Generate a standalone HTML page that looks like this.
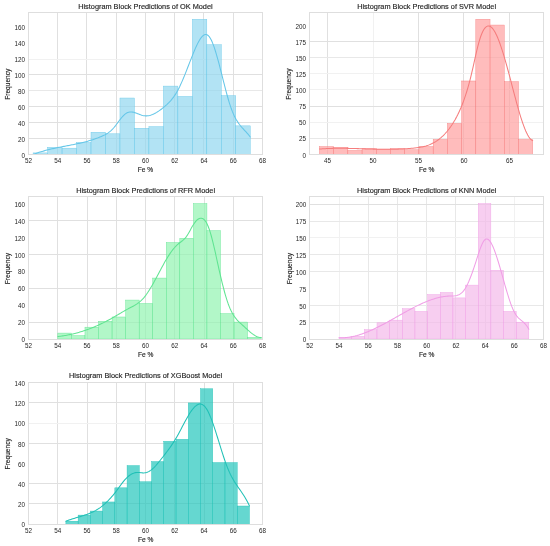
<!DOCTYPE html>
<html><head><meta charset="utf-8"><style>
html,body{margin:0;padding:0;background:#fff;}
svg{display:block;}
text{font-family:"Liberation Sans", Arial, sans-serif;fill:#262626;}
.lb,.tt{stroke:#262626;stroke-width:0.15px;}
.tk{font-size:6.3px;}
.lb{font-size:6.6px;}
.tt{font-size:7.33px;}
line{stroke-width:1;shape-rendering:crispEdges;}
</style></head><body>
<svg width="550" height="546" viewBox="0 0 550 546">
<rect width="550" height="546" fill="#fff"/>
<g><line x1="57.5" y1="12.5" x2="57.5" y2="154.5" stroke="#e0e0e0"/><line x1="86.5" y1="12.5" x2="86.5" y2="154.5" stroke="#e0e0e0"/><line x1="116.5" y1="12.5" x2="116.5" y2="154.5" stroke="#e0e0e0"/><line x1="145.5" y1="12.5" x2="145.5" y2="154.5" stroke="#e0e0e0"/><line x1="174.5" y1="12.5" x2="174.5" y2="154.5" stroke="#e0e0e0"/><line x1="203.5" y1="12.5" x2="203.5" y2="154.5" stroke="#e0e0e0"/><line x1="233.5" y1="12.5" x2="233.5" y2="154.5" stroke="#e0e0e0"/><line x1="28.5" y1="138.5" x2="262.5" y2="138.5" stroke="#e0e0e0"/><line x1="28.5" y1="122.5" x2="262.5" y2="122.5" stroke="#e0e0e0"/><line x1="28.5" y1="106.5" x2="262.5" y2="106.5" stroke="#e0e0e0"/><line x1="28.5" y1="90.5" x2="262.5" y2="90.5" stroke="#e8e8e8"/><line x1="28.5" y1="74.5" x2="262.5" y2="74.5" stroke="#e0e0e0"/><line x1="28.5" y1="59.5" x2="262.5" y2="59.5" stroke="#f1f1f1"/><rect x="33.08" y="152.91" width="14.48" height="1.59" fill="rgba(145,215,239,0.7)" stroke="rgb(100,198,232)" stroke-width="0.4"/><rect x="47.56" y="147.34" width="14.48" height="7.16" fill="rgba(145,215,239,0.7)" stroke="rgb(100,198,232)" stroke-width="0.4"/><rect x="62.04" y="148.14" width="14.48" height="6.36" fill="rgba(145,215,239,0.7)" stroke="rgb(100,198,232)" stroke-width="0.4"/><rect x="76.52" y="142.57" width="14.48" height="11.93" fill="rgba(145,215,239,0.7)" stroke="rgb(100,198,232)" stroke-width="0.4"/><rect x="91" y="132.23" width="14.48" height="22.27" fill="rgba(145,215,239,0.7)" stroke="rgb(100,198,232)" stroke-width="0.4"/><rect x="105.47" y="133.82" width="14.48" height="20.68" fill="rgba(145,215,239,0.7)" stroke="rgb(100,198,232)" stroke-width="0.4"/><rect x="119.95" y="98.02" width="14.48" height="56.48" fill="rgba(145,215,239,0.7)" stroke="rgb(100,198,232)" stroke-width="0.4"/><rect x="134.43" y="128.25" width="14.48" height="26.25" fill="rgba(145,215,239,0.7)" stroke="rgb(100,198,232)" stroke-width="0.4"/><rect x="148.91" y="126.66" width="14.48" height="27.84" fill="rgba(145,215,239,0.7)" stroke="rgb(100,198,232)" stroke-width="0.4"/><rect x="163.39" y="86.09" width="14.48" height="68.41" fill="rgba(145,215,239,0.7)" stroke="rgb(100,198,232)" stroke-width="0.4"/><rect x="177.87" y="96.43" width="14.48" height="58.07" fill="rgba(145,215,239,0.7)" stroke="rgb(100,198,232)" stroke-width="0.4"/><rect x="192.35" y="19.26" width="14.48" height="135.24" fill="rgba(145,215,239,0.7)" stroke="rgb(100,198,232)" stroke-width="0.4"/><rect x="206.83" y="44.72" width="14.48" height="109.78" fill="rgba(145,215,239,0.7)" stroke="rgb(100,198,232)" stroke-width="0.4"/><rect x="221.3" y="95.63" width="14.48" height="58.87" fill="rgba(145,215,239,0.7)" stroke="rgb(100,198,232)" stroke-width="0.4"/><rect x="235.78" y="125.86" width="14.48" height="28.64" fill="rgba(145,215,239,0.7)" stroke="rgb(100,198,232)" stroke-width="0.4"/><polyline points="33.08,154.5 34.08,154.13 35.07,153.76 36.07,153.39 37.06,153.04 38.06,152.7 39.06,152.37 40.05,152.05 41.05,151.74 42.05,151.44 43.04,151.15 44.04,150.87 45.03,150.59 46.03,150.32 47.03,150.06 48.02,149.81 49.02,149.56 50.02,149.32 51.01,149.08 52.01,148.85 53,148.63 54,148.41 55,148.19 55.99,147.98 56.99,147.77 57.99,147.57 58.98,147.36 59.98,147.17 60.97,146.97 61.97,146.77 62.97,146.58 63.96,146.39 64.96,146.19 65.96,146 66.95,145.81 67.95,145.62 68.94,145.43 69.94,145.23 70.94,145.04 71.93,144.84 72.93,144.64 73.93,144.44 74.92,144.23 75.92,144.03 76.91,143.81 77.91,143.6 78.91,143.38 79.9,143.15 80.9,142.92 81.9,142.69 82.89,142.44 83.89,142.2 84.88,141.94 85.88,141.68 86.88,141.41 87.87,141.14 88.87,140.85 89.87,140.56 90.86,140.26 91.86,139.95 92.85,139.63 93.85,139.29 94.85,138.95 95.84,138.6 96.84,138.24 97.84,137.87 98.83,137.48 99.83,137.08 100.82,136.68 101.82,136.25 102.82,135.81 103.81,135.35 104.81,134.85 105.81,134.32 106.8,133.74 107.8,133.1 108.79,132.41 109.79,131.65 110.79,130.81 111.78,129.88 112.78,128.87 113.78,127.76 114.77,126.56 115.77,125.3 116.76,123.99 117.76,122.65 118.76,121.31 119.75,119.99 120.75,118.7 121.75,117.47 122.74,116.32 123.74,115.28 124.73,114.36 125.73,113.58 126.73,112.96 127.72,112.5 128.72,112.19 129.72,112.01 130.71,111.95 131.71,111.99 132.7,112.13 133.7,112.34 134.7,112.62 135.69,112.94 136.69,113.3 137.69,113.69 138.68,114.08 139.68,114.46 140.67,114.83 141.67,115.16 142.67,115.44 143.66,115.66 144.66,115.81 145.66,115.88 146.65,115.88 147.65,115.8 148.64,115.66 149.64,115.45 150.64,115.18 151.63,114.84 152.63,114.46 153.63,114.02 154.62,113.53 155.62,112.99 156.61,112.41 157.61,111.79 158.61,111.13 159.6,110.44 160.6,109.72 161.6,108.97 162.59,108.19 163.59,107.39 164.58,106.57 165.58,105.72 166.58,104.84 167.57,103.91 168.57,102.93 169.57,101.9 170.56,100.8 171.56,99.63 172.55,98.39 173.55,97.06 174.55,95.64 175.54,94.12 176.54,92.49 177.54,90.76 178.53,88.9 179.53,86.92 180.52,84.83 181.52,82.64 182.52,80.36 183.51,78 184.51,75.58 185.51,73.11 186.5,70.59 187.5,68.05 188.49,65.49 189.49,62.93 190.49,60.37 191.48,57.84 192.48,55.33 193.48,52.87 194.47,50.47 195.47,48.16 196.46,45.96 197.46,43.88 198.46,41.96 199.45,40.21 200.45,38.65 201.45,37.3 202.44,36.2 203.44,35.35 204.43,34.78 205.43,34.51 206.43,34.56 207.42,34.96 208.42,35.72 209.42,36.87 210.41,38.41 211.41,40.32 212.4,42.57 213.4,45.12 214.4,47.95 215.39,51.02 216.39,54.31 217.39,57.78 218.38,61.41 219.38,65.16 220.37,69.01 221.37,72.91 222.37,76.86 223.36,80.8 224.36,84.72 225.36,88.57 226.35,92.34 227.35,95.99 228.34,99.49 229.34,102.82 230.34,105.93 231.33,108.8 232.33,111.42 233.33,113.8 234.32,115.97 235.32,117.95 236.31,119.74 237.31,121.38 238.31,122.88 239.3,124.26 240.3,125.54 241.3,126.73 242.29,127.87 243.29,128.96 244.28,130.03 245.28,131.1 246.28,132.18 247.27,133.29 248.27,134.46 249.27,135.7 250.26,137.03" fill="none" stroke="rgb(100,198,232)" stroke-width="1.05" stroke-linejoin="round" stroke-linecap="round"/><rect x="28.5" y="12.5" width="234" height="142" fill="none" stroke="#dedede" stroke-width="1" shape-rendering="crispEdges"/><text x="28.4" y="163.2" class="tk" text-anchor="middle">52</text><text x="57.65" y="163.2" class="tk" text-anchor="middle">54</text><text x="86.9" y="163.2" class="tk" text-anchor="middle">56</text><text x="116.15" y="163.2" class="tk" text-anchor="middle">58</text><text x="145.4" y="163.2" class="tk" text-anchor="middle">60</text><text x="174.65" y="163.2" class="tk" text-anchor="middle">62</text><text x="203.9" y="163.2" class="tk" text-anchor="middle">64</text><text x="233.15" y="163.2" class="tk" text-anchor="middle">66</text><text x="262.4" y="163.2" class="tk" text-anchor="middle">68</text><text x="24.9" y="157.7" class="tk" text-anchor="end">0</text><text x="24.9" y="141.79" class="tk" text-anchor="end">20</text><text x="24.9" y="125.88" class="tk" text-anchor="end">40</text><text x="24.9" y="109.97" class="tk" text-anchor="end">60</text><text x="24.9" y="94.06" class="tk" text-anchor="end">80</text><text x="24.9" y="78.15" class="tk" text-anchor="end">100</text><text x="24.9" y="62.24" class="tk" text-anchor="end">120</text><text x="24.9" y="46.33" class="tk" text-anchor="end">140</text><text x="24.9" y="30.42" class="tk" text-anchor="end">160</text><text x="145.4" y="172" class="lb" text-anchor="middle">Fe %</text><text transform="translate(10.2,84.2) rotate(-90)" class="lb" text-anchor="middle">Frequency</text><text x="145.4" y="8.6" class="tt" text-anchor="middle">Histogram Block Predictions of OK Model</text></g><g><line x1="327.5" y1="12.5" x2="327.5" y2="154.5" stroke="#e0e0e0"/><line x1="373.5" y1="12.5" x2="373.5" y2="154.5" stroke="#f1f1f1"/><line x1="418.5" y1="12.5" x2="418.5" y2="154.5" stroke="#e0e0e0"/><line x1="463.5" y1="12.5" x2="463.5" y2="154.5" stroke="#e0e0e0"/><line x1="509.5" y1="12.5" x2="509.5" y2="154.5" stroke="#e0e0e0"/><line x1="309.5" y1="138.5" x2="543.5" y2="138.5" stroke="#e8e8e8"/><line x1="309.5" y1="122.5" x2="543.5" y2="122.5" stroke="#f1f1f1"/><line x1="309.5" y1="106.5" x2="543.5" y2="106.5" stroke="#e0e0e0"/><line x1="309.5" y1="89.5" x2="543.5" y2="89.5" stroke="#f1f1f1"/><line x1="309.5" y1="73.5" x2="543.5" y2="73.5" stroke="#f1f1f1"/><line x1="309.5" y1="57.5" x2="543.5" y2="57.5" stroke="#e8e8e8"/><line x1="309.5" y1="41.5" x2="543.5" y2="41.5" stroke="#e0e0e0"/><rect x="319.41" y="146.58" width="14.22" height="7.72" fill="rgba(255,159,159,0.7)" stroke="rgb(245,125,125)" stroke-width="0.4"/><rect x="333.63" y="147.23" width="14.22" height="7.07" fill="rgba(255,159,159,0.7)" stroke="rgb(245,125,125)" stroke-width="0.4"/><rect x="347.85" y="150.44" width="14.22" height="3.86" fill="rgba(255,159,159,0.7)" stroke="rgb(245,125,125)" stroke-width="0.4"/><rect x="362.07" y="148.51" width="14.22" height="5.79" fill="rgba(255,159,159,0.7)" stroke="rgb(245,125,125)" stroke-width="0.4"/><rect x="376.29" y="149.16" width="14.22" height="5.14" fill="rgba(255,159,159,0.7)" stroke="rgb(245,125,125)" stroke-width="0.4"/><rect x="390.51" y="148.51" width="14.22" height="5.79" fill="rgba(255,159,159,0.7)" stroke="rgb(245,125,125)" stroke-width="0.4"/><rect x="404.73" y="149.8" width="14.22" height="4.5" fill="rgba(255,159,159,0.7)" stroke="rgb(245,125,125)" stroke-width="0.4"/><rect x="418.94" y="146.58" width="14.22" height="7.72" fill="rgba(255,159,159,0.7)" stroke="rgb(245,125,125)" stroke-width="0.4"/><rect x="433.16" y="139.51" width="14.22" height="14.79" fill="rgba(255,159,159,0.7)" stroke="rgb(245,125,125)" stroke-width="0.4"/><rect x="447.38" y="123.43" width="14.22" height="30.87" fill="rgba(255,159,159,0.7)" stroke="rgb(245,125,125)" stroke-width="0.4"/><rect x="461.6" y="80.99" width="14.22" height="73.31" fill="rgba(255,159,159,0.7)" stroke="rgb(245,125,125)" stroke-width="0.4"/><rect x="475.82" y="19.25" width="14.22" height="135.05" fill="rgba(255,159,159,0.7)" stroke="rgb(245,125,125)" stroke-width="0.4"/><rect x="490.04" y="25.04" width="14.22" height="129.26" fill="rgba(255,159,159,0.7)" stroke="rgb(245,125,125)" stroke-width="0.4"/><rect x="504.26" y="81.63" width="14.22" height="72.67" fill="rgba(255,159,159,0.7)" stroke="rgb(245,125,125)" stroke-width="0.4"/><rect x="518.48" y="139.51" width="14.22" height="14.79" fill="rgba(255,159,159,0.7)" stroke="rgb(245,125,125)" stroke-width="0.4"/><polyline points="319.41,149.07 320.41,148.99 321.4,148.91 322.4,148.84 323.4,148.77 324.39,148.71 325.39,148.65 326.39,148.6 327.38,148.55 328.38,148.51 329.38,148.47 330.37,148.43 331.37,148.4 332.37,148.38 333.36,148.35 334.36,148.33 335.36,148.32 336.35,148.3 337.35,148.3 338.35,148.29 339.34,148.29 340.34,148.29 341.34,148.29 342.33,148.29 343.33,148.3 344.33,148.31 345.32,148.32 346.32,148.34 347.32,148.36 348.31,148.37 349.31,148.4 350.31,148.42 351.3,148.44 352.3,148.47 353.3,148.49 354.29,148.52 355.29,148.55 356.29,148.58 357.28,148.61 358.28,148.64 359.28,148.67 360.27,148.71 361.27,148.74 362.27,148.77 363.26,148.81 364.26,148.84 365.26,148.87 366.25,148.91 367.25,148.94 368.25,148.97 369.24,149 370.24,149.03 371.24,149.06 372.23,149.09 373.23,149.12 374.23,149.14 375.22,149.17 376.22,149.19 377.22,149.21 378.21,149.23 379.21,149.25 380.21,149.27 381.2,149.28 382.2,149.29 383.2,149.3 384.19,149.31 385.19,149.32 386.19,149.32 387.18,149.32 388.18,149.31 389.18,149.31 390.17,149.3 391.17,149.29 392.17,149.27 393.16,149.25 394.16,149.23 395.16,149.21 396.15,149.18 397.15,149.15 398.15,149.12 399.14,149.08 400.14,149.04 401.14,149 402.13,148.95 403.13,148.9 404.13,148.84 405.12,148.78 406.12,148.72 407.12,148.65 408.11,148.58 409.11,148.5 410.11,148.42 411.1,148.34 412.1,148.25 413.1,148.15 414.09,148.06 415.09,147.95 416.09,147.84 417.08,147.71 418.08,147.58 419.08,147.43 420.07,147.27 421.07,147.09 422.07,146.89 423.06,146.67 424.06,146.43 425.06,146.17 426.05,145.89 427.05,145.58 428.05,145.24 429.04,144.87 430.04,144.47 431.04,144.04 432.03,143.58 433.03,143.08 434.03,142.54 435.02,141.97 436.02,141.35 437.02,140.69 438.01,139.99 439.01,139.25 440.01,138.46 441,137.62 442,136.73 443,135.78 443.99,134.79 444.99,133.74 445.99,132.64 446.98,131.48 447.98,130.25 448.98,128.97 449.97,127.63 450.97,126.22 451.97,124.74 452.96,123.2 453.96,121.59 454.96,119.9 455.95,118.13 456.95,116.28 457.95,114.32 458.94,112.25 459.94,110.07 460.94,107.77 461.93,105.34 462.93,102.78 463.93,100.06 464.92,97.2 465.92,94.17 466.92,90.98 467.92,87.61 468.91,84.05 469.91,80.31 470.91,76.36 471.9,72.21 472.9,67.85 473.9,63.38 474.89,58.87 475.89,54.42 476.89,50.12 477.88,46.06 478.88,42.34 479.88,39 480.87,36.04 481.87,33.48 482.87,31.31 483.86,29.52 484.86,28.11 485.86,27.06 486.85,26.37 487.85,26.01 488.85,25.97 489.84,26.25 490.84,26.82 491.84,27.68 492.83,28.81 493.83,30.19 494.83,31.83 495.82,33.69 496.82,35.78 497.82,38.07 498.81,40.56 499.81,43.22 500.81,46.06 501.8,49.05 502.8,52.17 503.8,55.43 504.79,58.81 505.79,62.28 506.79,65.84 507.78,69.49 508.78,73.19 509.78,76.94 510.77,80.73 511.77,84.54 512.77,88.35 513.76,92.15 514.76,95.92 515.76,99.64 516.75,103.31 517.75,106.9 518.75,110.39 519.74,113.78 520.74,117.04 521.74,120.16 522.73,123.12 523.73,125.91 524.73,128.52 525.72,130.91 526.72,133.09 527.72,135.03 528.71,136.72 529.71,138.14 530.71,139.27 531.7,140.11 532.7,140.63" fill="none" stroke="rgb(245,125,125)" stroke-width="1.05" stroke-linejoin="round" stroke-linecap="round"/><rect x="309.5" y="12.5" width="234" height="142" fill="none" stroke="#dedede" stroke-width="1" shape-rendering="crispEdges"/><text x="327.59" y="163" class="tk" text-anchor="middle">45</text><text x="373.05" y="163" class="tk" text-anchor="middle">50</text><text x="418.51" y="163" class="tk" text-anchor="middle">55</text><text x="463.97" y="163" class="tk" text-anchor="middle">60</text><text x="509.42" y="163" class="tk" text-anchor="middle">65</text><text x="306" y="157.5" class="tk" text-anchor="end">0</text><text x="306" y="141.42" class="tk" text-anchor="end">25</text><text x="306" y="125.35" class="tk" text-anchor="end">50</text><text x="306" y="109.27" class="tk" text-anchor="end">75</text><text x="306" y="93.19" class="tk" text-anchor="end">100</text><text x="306" y="77.11" class="tk" text-anchor="end">125</text><text x="306" y="61.04" class="tk" text-anchor="end">150</text><text x="306" y="44.96" class="tk" text-anchor="end">175</text><text x="306" y="28.88" class="tk" text-anchor="end">200</text><text x="426.6" y="171.8" class="lb" text-anchor="middle">Fe %</text><text transform="translate(291.3,84.1) rotate(-90)" class="lb" text-anchor="middle">Frequency</text><text x="426.6" y="8.6" class="tt" text-anchor="middle">Histogram Block Predictions of SVR Model</text></g><g><line x1="57.5" y1="196.5" x2="57.5" y2="339.5" stroke="#e0e0e0"/><line x1="87.5" y1="196.5" x2="87.5" y2="339.5" stroke="#e0e0e0"/><line x1="116.5" y1="196.5" x2="116.5" y2="339.5" stroke="#e0e0e0"/><line x1="145.5" y1="196.5" x2="145.5" y2="339.5" stroke="#e0e0e0"/><line x1="174.5" y1="196.5" x2="174.5" y2="339.5" stroke="#e0e0e0"/><line x1="204.5" y1="196.5" x2="204.5" y2="339.5" stroke="#e0e0e0"/><line x1="233.5" y1="196.5" x2="233.5" y2="339.5" stroke="#e0e0e0"/><line x1="28.5" y1="322.5" x2="262.5" y2="322.5" stroke="#e0e0e0"/><line x1="28.5" y1="288.5" x2="262.5" y2="288.5" stroke="#e0e0e0"/><line x1="28.5" y1="254.5" x2="262.5" y2="254.5" stroke="#e0e0e0"/><line x1="28.5" y1="220.5" x2="262.5" y2="220.5" stroke="#e0e0e0"/><rect x="57.85" y="333.07" width="13.55" height="5.93" fill="rgba(145,244,176,0.7)" stroke="rgb(95,228,145)" stroke-width="0.4"/><rect x="71.4" y="335.61" width="13.55" height="3.39" fill="rgba(145,244,176,0.7)" stroke="rgb(95,228,145)" stroke-width="0.4"/><rect x="84.95" y="327.15" width="13.55" height="11.85" fill="rgba(145,244,176,0.7)" stroke="rgb(95,228,145)" stroke-width="0.4"/><rect x="98.51" y="321.23" width="13.55" height="17.77" fill="rgba(145,244,176,0.7)" stroke="rgb(95,228,145)" stroke-width="0.4"/><rect x="112.06" y="316.99" width="13.55" height="22.01" fill="rgba(145,244,176,0.7)" stroke="rgb(95,228,145)" stroke-width="0.4"/><rect x="125.61" y="300.06" width="13.55" height="38.94" fill="rgba(145,244,176,0.7)" stroke="rgb(95,228,145)" stroke-width="0.4"/><rect x="139.17" y="303.45" width="13.55" height="35.55" fill="rgba(145,244,176,0.7)" stroke="rgb(95,228,145)" stroke-width="0.4"/><rect x="152.72" y="278.06" width="13.55" height="60.94" fill="rgba(145,244,176,0.7)" stroke="rgb(95,228,145)" stroke-width="0.4"/><rect x="166.27" y="242.51" width="13.55" height="96.49" fill="rgba(145,244,176,0.7)" stroke="rgb(95,228,145)" stroke-width="0.4"/><rect x="179.82" y="238.28" width="13.55" height="100.72" fill="rgba(145,244,176,0.7)" stroke="rgb(95,228,145)" stroke-width="0.4"/><rect x="193.38" y="203.57" width="13.55" height="135.43" fill="rgba(145,244,176,0.7)" stroke="rgb(95,228,145)" stroke-width="0.4"/><rect x="206.93" y="230.66" width="13.55" height="108.34" fill="rgba(145,244,176,0.7)" stroke="rgb(95,228,145)" stroke-width="0.4"/><rect x="220.48" y="313.61" width="13.55" height="25.39" fill="rgba(145,244,176,0.7)" stroke="rgb(95,228,145)" stroke-width="0.4"/><rect x="234.03" y="322.07" width="13.55" height="16.93" fill="rgba(145,244,176,0.7)" stroke="rgb(95,228,145)" stroke-width="0.4"/><rect x="247.59" y="337.31" width="13.55" height="1.69" fill="rgba(145,244,176,0.7)" stroke="rgb(95,228,145)" stroke-width="0.4"/><polyline points="57.85,336.53 58.85,336.42 59.84,336.3 60.84,336.17 61.84,336.03 62.83,335.89 63.83,335.74 64.83,335.57 65.82,335.4 66.82,335.22 67.82,335.03 68.81,334.84 69.81,334.63 70.8,334.42 71.8,334.2 72.8,333.97 73.79,333.73 74.79,333.48 75.79,333.23 76.78,332.96 77.78,332.69 78.78,332.41 79.77,332.12 80.77,331.82 81.77,331.51 82.76,331.2 83.76,330.87 84.76,330.54 85.75,330.2 86.75,329.85 87.75,329.49 88.74,329.13 89.74,328.75 90.73,328.37 91.73,327.98 92.73,327.58 93.72,327.17 94.72,326.75 95.72,326.33 96.71,325.89 97.71,325.45 98.71,325 99.7,324.54 100.7,324.07 101.7,323.6 102.69,323.11 103.69,322.62 104.69,322.12 105.68,321.61 106.68,321.09 107.68,320.56 108.67,320.03 109.67,319.49 110.66,318.93 111.66,318.37 112.66,317.8 113.65,317.23 114.65,316.64 115.65,316.06 116.64,315.47 117.64,314.87 118.64,314.28 119.63,313.68 120.63,313.09 121.63,312.5 122.62,311.91 123.62,311.33 124.62,310.76 125.61,310.19 126.61,309.63 127.61,309.09 128.6,308.55 129.6,308.03 130.6,307.51 131.59,306.99 132.59,306.46 133.58,305.92 134.58,305.35 135.58,304.76 136.57,304.13 137.57,303.45 138.57,302.72 139.56,301.94 140.56,301.08 141.56,300.16 142.55,299.16 143.55,298.06 144.55,296.88 145.54,295.6 146.54,294.24 147.54,292.81 148.53,291.3 149.53,289.72 150.53,288.09 151.52,286.4 152.52,284.67 153.51,282.89 154.51,281.09 155.51,279.25 156.5,277.4 157.5,275.53 158.5,273.66 159.49,271.78 160.49,269.91 161.49,268.05 162.48,266.21 163.48,264.39 164.48,262.6 165.47,260.86 166.47,259.15 167.47,257.5 168.46,255.9 169.46,254.36 170.46,252.9 171.45,251.5 172.45,250.18 173.44,248.94 174.44,247.76 175.44,246.66 176.43,245.63 177.43,244.67 178.43,243.78 179.42,242.97 180.42,242.21 181.42,241.48 182.41,240.72 183.41,239.89 184.41,238.95 185.4,237.87 186.4,236.58 187.4,235.09 188.39,233.45 189.39,231.7 190.39,229.89 191.38,228.09 192.38,226.34 193.38,224.7 194.37,223.2 195.37,221.86 196.36,220.7 197.36,219.73 198.36,218.97 199.35,218.45 200.35,218.17 201.35,218.15 202.34,218.41 203.34,218.97 204.34,219.84 205.33,221.03 206.33,222.58 207.33,224.48 208.32,226.77 209.32,229.45 210.32,232.54 211.31,236.01 212.31,239.79 213.31,243.83 214.3,248.08 215.3,252.49 216.29,256.99 217.29,261.54 218.29,266.09 219.28,270.57 220.28,274.94 221.28,279.19 222.27,283.3 223.27,287.24 224.27,291 225.26,294.58 226.26,297.94 227.26,301.07 228.25,303.95 229.25,306.58 230.25,308.95 231.24,311.08 232.24,312.99 233.24,314.71 234.23,316.25 235.23,317.65 236.22,318.9 237.22,320.05 238.22,321.1 239.21,322.09 240.21,323.02 241.21,323.93 242.2,324.83 243.2,325.74 244.2,326.66 245.19,327.59 246.19,328.51 247.19,329.43 248.18,330.33 249.18,331.21 250.18,332.06 251.17,332.88 252.17,333.65 253.17,334.38 254.16,335.05 255.16,335.65 256.15,336.19 257.15,336.65 258.15,337.03 259.14,337.32 260.14,337.51 261.14,337.6" fill="none" stroke="rgb(95,228,145)" stroke-width="1.05" stroke-linejoin="round" stroke-linecap="round"/><rect x="28.5" y="196.5" width="234" height="143" fill="none" stroke="#dedede" stroke-width="1" shape-rendering="crispEdges"/><text x="28.6" y="347.7" class="tk" text-anchor="middle">52</text><text x="57.85" y="347.7" class="tk" text-anchor="middle">54</text><text x="87.1" y="347.7" class="tk" text-anchor="middle">56</text><text x="116.35" y="347.7" class="tk" text-anchor="middle">58</text><text x="145.6" y="347.7" class="tk" text-anchor="middle">60</text><text x="174.85" y="347.7" class="tk" text-anchor="middle">62</text><text x="204.1" y="347.7" class="tk" text-anchor="middle">64</text><text x="233.35" y="347.7" class="tk" text-anchor="middle">66</text><text x="262.6" y="347.7" class="tk" text-anchor="middle">68</text><text x="25.1" y="342.2" class="tk" text-anchor="end">0</text><text x="25.1" y="325.27" class="tk" text-anchor="end">20</text><text x="25.1" y="308.34" class="tk" text-anchor="end">40</text><text x="25.1" y="291.41" class="tk" text-anchor="end">60</text><text x="25.1" y="274.49" class="tk" text-anchor="end">80</text><text x="25.1" y="257.56" class="tk" text-anchor="end">100</text><text x="25.1" y="240.63" class="tk" text-anchor="end">120</text><text x="25.1" y="223.7" class="tk" text-anchor="end">140</text><text x="25.1" y="206.77" class="tk" text-anchor="end">160</text><text x="145.6" y="356.5" class="lb" text-anchor="middle">Fe %</text><text transform="translate(10.4,268.6) rotate(-90)" class="lb" text-anchor="middle">Frequency</text><text x="145.6" y="192.9" class="tt" text-anchor="middle">Histogram Block Predictions of RFR Model</text></g><g><line x1="339.5" y1="196.5" x2="339.5" y2="339.5" stroke="#f1f1f1"/><line x1="368.5" y1="196.5" x2="368.5" y2="339.5" stroke="#e8e8e8"/><line x1="397.5" y1="196.5" x2="397.5" y2="339.5" stroke="#e8e8e8"/><line x1="426.5" y1="196.5" x2="426.5" y2="339.5" stroke="#e8e8e8"/><line x1="455.5" y1="196.5" x2="455.5" y2="339.5" stroke="#e8e8e8"/><line x1="485.5" y1="196.5" x2="485.5" y2="339.5" stroke="#e8e8e8"/><line x1="514.5" y1="196.5" x2="514.5" y2="339.5" stroke="#f1f1f1"/><line x1="309.5" y1="322.5" x2="543.5" y2="322.5" stroke="#e8e8e8"/><line x1="309.5" y1="305.5" x2="543.5" y2="305.5" stroke="#e8e8e8"/><line x1="309.5" y1="271.5" x2="543.5" y2="271.5" stroke="#e8e8e8"/><line x1="309.5" y1="254.5" x2="543.5" y2="254.5" stroke="#e8e8e8"/><line x1="309.5" y1="237.5" x2="543.5" y2="237.5" stroke="#f1f1f1"/><line x1="309.5" y1="221.5" x2="543.5" y2="221.5" stroke="#e8e8e8"/><line x1="309.5" y1="204.5" x2="543.5" y2="204.5" stroke="#e0e0e0"/><rect x="339.03" y="337.65" width="12.65" height="1.35" fill="rgba(244,185,234,0.7)" stroke="rgb(240,158,230)" stroke-width="0.4"/><rect x="351.68" y="336.3" width="12.65" height="2.7" fill="rgba(244,185,234,0.7)" stroke="rgb(240,158,230)" stroke-width="0.4"/><rect x="364.33" y="329.57" width="12.65" height="9.43" fill="rgba(244,185,234,0.7)" stroke="rgb(240,158,230)" stroke-width="0.4"/><rect x="376.99" y="322.83" width="12.65" height="16.17" fill="rgba(244,185,234,0.7)" stroke="rgb(240,158,230)" stroke-width="0.4"/><rect x="389.64" y="320.13" width="12.65" height="18.87" fill="rgba(244,185,234,0.7)" stroke="rgb(240,158,230)" stroke-width="0.4"/><rect x="402.3" y="308.68" width="12.65" height="30.32" fill="rgba(244,185,234,0.7)" stroke="rgb(240,158,230)" stroke-width="0.4"/><rect x="414.95" y="311.38" width="12.65" height="27.62" fill="rgba(244,185,234,0.7)" stroke="rgb(240,158,230)" stroke-width="0.4"/><rect x="427.61" y="294.53" width="12.65" height="44.47" fill="rgba(244,185,234,0.7)" stroke="rgb(240,158,230)" stroke-width="0.4"/><rect x="440.26" y="292.51" width="12.65" height="46.49" fill="rgba(244,185,234,0.7)" stroke="rgb(240,158,230)" stroke-width="0.4"/><rect x="452.91" y="297.9" width="12.65" height="41.1" fill="rgba(244,185,234,0.7)" stroke="rgb(240,158,230)" stroke-width="0.4"/><rect x="465.57" y="285.1" width="12.65" height="53.9" fill="rgba(244,185,234,0.7)" stroke="rgb(240,158,230)" stroke-width="0.4"/><rect x="478.22" y="203.57" width="12.65" height="135.43" fill="rgba(244,185,234,0.7)" stroke="rgb(240,158,230)" stroke-width="0.4"/><rect x="490.88" y="270.28" width="12.65" height="68.72" fill="rgba(244,185,234,0.7)" stroke="rgb(240,158,230)" stroke-width="0.4"/><rect x="503.53" y="311.38" width="12.65" height="27.62" fill="rgba(244,185,234,0.7)" stroke="rgb(240,158,230)" stroke-width="0.4"/><rect x="516.19" y="322.16" width="12.65" height="16.84" fill="rgba(244,185,234,0.7)" stroke="rgb(240,158,230)" stroke-width="0.4"/><polyline points="339.03,337.74 340.02,337.77 341.02,337.78 342.02,337.78 343.02,337.75 344.02,337.7 345.02,337.64 346.02,337.55 347.02,337.45 348.02,337.33 349.02,337.19 350.01,337.03 351.01,336.86 352.01,336.67 353.01,336.47 354.01,336.24 355.01,336.01 356.01,335.75 357.01,335.49 358.01,335.2 359.01,334.91 360,334.6 361,334.27 362,333.94 363,333.59 364,333.23 365,332.85 366,332.47 367,332.07 368,331.67 369,331.25 370,330.82 370.99,330.38 371.99,329.93 372.99,329.48 373.99,329.01 374.99,328.54 375.99,328.06 376.99,327.57 377.99,327.07 378.99,326.57 379.99,326.06 380.98,325.55 381.98,325.02 382.98,324.5 383.98,323.96 384.98,323.43 385.98,322.89 386.98,322.34 387.98,321.79 388.98,321.24 389.98,320.68 390.97,320.12 391.97,319.56 392.97,319 393.97,318.44 394.97,317.87 395.97,317.31 396.97,316.74 397.97,316.18 398.97,315.61 399.97,315.04 400.97,314.48 401.96,313.92 402.96,313.36 403.96,312.8 404.96,312.24 405.96,311.69 406.96,311.14 407.96,310.59 408.96,310.05 409.96,309.51 410.96,308.97 411.95,308.44 412.95,307.92 413.95,307.4 414.95,306.89 415.95,306.39 416.95,305.89 417.95,305.4 418.95,304.91 419.95,304.44 420.95,303.97 421.94,303.51 422.94,303.07 423.94,302.63 424.94,302.2 425.94,301.78 426.94,301.38 427.94,300.98 428.94,300.6 429.94,300.23 430.94,299.87 431.94,299.53 432.93,299.2 433.93,298.88 434.93,298.58 435.93,298.29 436.93,298.02 437.93,297.76 438.93,297.52 439.93,297.29 440.93,297.08 441.93,296.89 442.92,296.72 443.92,296.56 444.92,296.43 445.92,296.31 446.92,296.21 447.92,296.13 448.92,296.07 449.92,296.03 450.92,296.01 451.92,296 452.91,295.97 453.91,295.92 454.91,295.83 455.91,295.67 456.91,295.44 457.91,295.12 458.91,294.69 459.91,294.14 460.91,293.45 461.91,292.59 462.91,291.57 463.9,290.35 464.9,288.93 465.9,287.29 466.9,285.44 467.9,283.4 468.9,281.17 469.9,278.78 470.9,276.24 471.9,273.57 472.9,270.77 473.89,267.87 474.89,264.88 475.89,261.82 476.89,258.7 477.89,255.58 478.89,252.53 479.89,249.62 480.89,246.93 481.89,244.52 482.89,242.47 483.88,240.84 484.88,239.71 485.88,239.09 486.88,238.95 487.88,239.26 488.88,240 489.88,241.12 490.88,242.6 491.88,244.4 492.88,246.51 493.88,248.89 494.87,251.5 495.87,254.32 496.87,257.33 497.87,260.49 498.87,263.77 499.87,267.16 500.87,270.63 501.87,274.16 502.87,277.71 503.87,281.26 504.86,284.78 505.86,288.26 506.86,291.66 507.86,294.96 508.86,298.14 509.86,301.16 510.86,304.01 511.86,306.65 512.86,309.06 513.86,311.22 514.85,313.1 515.85,314.71 516.85,316.08 517.85,317.26 518.85,318.29 519.85,319.21 520.85,320.06 521.85,320.89 522.85,321.72 523.85,322.61 524.85,323.6 525.84,324.72 526.84,326.02 527.84,327.54 528.84,329.32" fill="none" stroke="rgb(240,158,230)" stroke-width="1.05" stroke-linejoin="round" stroke-linecap="round"/><rect x="309.5" y="196.5" width="234" height="143" fill="none" stroke="#dedede" stroke-width="1" shape-rendering="crispEdges"/><text x="309.8" y="347.7" class="tk" text-anchor="middle">52</text><text x="339.03" y="347.7" class="tk" text-anchor="middle">54</text><text x="368.25" y="347.7" class="tk" text-anchor="middle">56</text><text x="397.48" y="347.7" class="tk" text-anchor="middle">58</text><text x="426.7" y="347.7" class="tk" text-anchor="middle">60</text><text x="455.93" y="347.7" class="tk" text-anchor="middle">62</text><text x="485.15" y="347.7" class="tk" text-anchor="middle">64</text><text x="514.38" y="347.7" class="tk" text-anchor="middle">66</text><text x="543.6" y="347.7" class="tk" text-anchor="middle">68</text><text x="306.3" y="342.2" class="tk" text-anchor="end">0</text><text x="306.3" y="325.36" class="tk" text-anchor="end">25</text><text x="306.3" y="308.51" class="tk" text-anchor="end">50</text><text x="306.3" y="291.67" class="tk" text-anchor="end">75</text><text x="306.3" y="274.82" class="tk" text-anchor="end">100</text><text x="306.3" y="257.98" class="tk" text-anchor="end">125</text><text x="306.3" y="241.13" class="tk" text-anchor="end">150</text><text x="306.3" y="224.29" class="tk" text-anchor="end">175</text><text x="306.3" y="207.45" class="tk" text-anchor="end">200</text><text x="426.7" y="356.5" class="lb" text-anchor="middle">Fe %</text><text transform="translate(291.6,268.6) rotate(-90)" class="lb" text-anchor="middle">Frequency</text><text x="426.7" y="192.9" class="tt" text-anchor="middle">Histogram Block Predictions of KNN Model</text></g><g><line x1="57.5" y1="382.5" x2="57.5" y2="524.5" stroke="#e0e0e0"/><line x1="87.5" y1="382.5" x2="87.5" y2="524.5" stroke="#e0e0e0"/><line x1="116.5" y1="382.5" x2="116.5" y2="524.5" stroke="#e0e0e0"/><line x1="145.5" y1="382.5" x2="145.5" y2="524.5" stroke="#e0e0e0"/><line x1="174.5" y1="382.5" x2="174.5" y2="524.5" stroke="#e0e0e0"/><line x1="204.5" y1="382.5" x2="204.5" y2="524.5" stroke="#e0e0e0"/><line x1="233.5" y1="382.5" x2="233.5" y2="524.5" stroke="#e0e0e0"/><line x1="28.5" y1="503.5" x2="262.5" y2="503.5" stroke="#e0e0e0"/><line x1="28.5" y1="483.5" x2="262.5" y2="483.5" stroke="#e0e0e0"/><line x1="28.5" y1="443.5" x2="262.5" y2="443.5" stroke="#e0e0e0"/><line x1="28.5" y1="423.5" x2="262.5" y2="423.5" stroke="#f1f1f1"/><line x1="28.5" y1="402.5" x2="262.5" y2="402.5" stroke="#e0e0e0"/><rect x="65.89" y="521.17" width="12.24" height="3.03" fill="rgba(36,198,188,0.7)" stroke="rgb(32,192,182)" stroke-width="0.4"/><rect x="78.13" y="515.1" width="12.24" height="9.1" fill="rgba(36,198,188,0.7)" stroke="rgb(32,192,182)" stroke-width="0.4"/><rect x="90.37" y="511.06" width="12.24" height="13.14" fill="rgba(36,198,188,0.7)" stroke="rgb(32,192,182)" stroke-width="0.4"/><rect x="102.6" y="501.97" width="12.24" height="22.23" fill="rgba(36,198,188,0.7)" stroke="rgb(32,192,182)" stroke-width="0.4"/><rect x="114.84" y="487.82" width="12.24" height="36.38" fill="rgba(36,198,188,0.7)" stroke="rgb(32,192,182)" stroke-width="0.4"/><rect x="127.07" y="465.58" width="12.24" height="58.62" fill="rgba(36,198,188,0.7)" stroke="rgb(32,192,182)" stroke-width="0.4"/><rect x="139.31" y="481.75" width="12.24" height="42.45" fill="rgba(36,198,188,0.7)" stroke="rgb(32,192,182)" stroke-width="0.4"/><rect x="151.55" y="461.54" width="12.24" height="62.66" fill="rgba(36,198,188,0.7)" stroke="rgb(32,192,182)" stroke-width="0.4"/><rect x="163.78" y="441.33" width="12.24" height="82.87" fill="rgba(36,198,188,0.7)" stroke="rgb(32,192,182)" stroke-width="0.4"/><rect x="176.02" y="439.3" width="12.24" height="84.9" fill="rgba(36,198,188,0.7)" stroke="rgb(32,192,182)" stroke-width="0.4"/><rect x="188.26" y="402.92" width="12.24" height="121.28" fill="rgba(36,198,188,0.7)" stroke="rgb(32,192,182)" stroke-width="0.4"/><rect x="200.49" y="388.77" width="12.24" height="135.43" fill="rgba(36,198,188,0.7)" stroke="rgb(32,192,182)" stroke-width="0.4"/><rect x="212.73" y="462.55" width="12.24" height="61.65" fill="rgba(36,198,188,0.7)" stroke="rgb(32,192,182)" stroke-width="0.4"/><rect x="224.96" y="462.55" width="12.24" height="61.65" fill="rgba(36,198,188,0.7)" stroke="rgb(32,192,182)" stroke-width="0.4"/><rect x="237.2" y="506.01" width="12.24" height="18.19" fill="rgba(36,198,188,0.7)" stroke="rgb(32,192,182)" stroke-width="0.4"/><polyline points="65.89,521.22 66.89,520.82 67.89,520.45 68.89,520.08 69.88,519.74 70.88,519.4 71.88,519.08 72.88,518.76 73.87,518.46 74.87,518.15 75.87,517.86 76.87,517.56 77.86,517.27 78.86,516.98 79.86,516.68 80.86,516.38 81.85,516.08 82.85,515.77 83.85,515.45 84.85,515.12 85.84,514.77 86.84,514.42 87.84,514.05 88.84,513.66 89.83,513.25 90.83,512.83 91.83,512.38 92.83,511.91 93.82,511.41 94.82,510.89 95.82,510.34 96.82,509.75 97.81,509.14 98.81,508.5 99.81,507.82 100.81,507.1 101.8,506.34 102.8,505.55 103.8,504.72 104.8,503.85 105.79,502.94 106.79,501.99 107.79,501.01 108.79,499.99 109.78,498.93 110.78,497.84 111.78,496.71 112.78,495.54 113.77,494.34 114.77,493.1 115.77,491.83 116.77,490.52 117.76,489.18 118.76,487.81 119.76,486.42 120.76,485.04 121.75,483.67 122.75,482.35 123.75,481.08 124.75,479.88 125.74,478.78 126.74,477.76 127.74,476.83 128.74,475.98 129.74,475.23 130.73,474.57 131.73,474 132.73,473.52 133.73,473.13 134.72,472.83 135.72,472.63 136.72,472.52 137.72,472.49 138.71,472.53 139.71,472.6 140.71,472.7 141.71,472.8 142.7,472.87 143.7,472.9 144.7,472.85 145.7,472.72 146.69,472.47 147.69,472.1 148.69,471.63 149.69,471.04 150.68,470.36 151.68,469.59 152.68,468.73 153.68,467.8 154.67,466.8 155.67,465.74 156.67,464.62 157.67,463.46 158.66,462.26 159.66,461.03 160.66,459.78 161.66,458.51 162.65,457.23 163.65,455.95 164.65,454.66 165.65,453.37 166.64,452.05 167.64,450.72 168.64,449.37 169.64,447.99 170.63,446.58 171.63,445.13 172.63,443.64 173.63,442.1 174.62,440.52 175.62,438.89 176.62,437.2 177.62,435.44 178.61,433.64 179.61,431.79 180.61,429.91 181.61,428.01 182.6,426.11 183.6,424.21 184.6,422.33 185.6,420.47 186.59,418.66 187.59,416.89 188.59,415.19 189.59,413.57 190.58,412.03 191.58,410.59 192.58,409.27 193.58,408.06 194.57,406.99 195.57,406.06 196.57,405.3 197.57,404.7 198.56,404.28 199.56,404.06 200.56,404.04 201.56,404.24 202.55,404.66 203.55,405.33 204.55,406.25 205.55,407.43 206.54,408.88 207.54,410.6 208.54,412.55 209.54,414.72 210.53,417.09 211.53,419.63 212.53,422.34 213.53,425.17 214.52,428.13 215.52,431.18 216.52,434.3 217.52,437.48 218.51,440.69 219.51,443.92 220.51,447.13 221.51,450.32 222.5,453.46 223.5,456.53 224.5,459.51 225.5,462.38 226.49,465.12 227.49,467.71 228.49,470.12 229.49,472.38 230.48,474.48 231.48,476.45 232.48,478.29 233.48,480.04 234.47,481.69 235.47,483.27 236.47,484.79 237.47,486.26 238.46,487.71 239.46,489.14 240.46,490.56 241.46,492.01 242.45,493.48 243.45,495 244.45,496.58 245.45,498.23 246.44,499.97 247.44,501.82 248.44,503.79 249.44,505.89" fill="none" stroke="rgb(32,192,182)" stroke-width="1.05" stroke-linejoin="round" stroke-linecap="round"/><rect x="28.5" y="382.5" width="234" height="142" fill="none" stroke="#dedede" stroke-width="1" shape-rendering="crispEdges"/><text x="28.6" y="532.9" class="tk" text-anchor="middle">52</text><text x="57.85" y="532.9" class="tk" text-anchor="middle">54</text><text x="87.1" y="532.9" class="tk" text-anchor="middle">56</text><text x="116.35" y="532.9" class="tk" text-anchor="middle">58</text><text x="145.6" y="532.9" class="tk" text-anchor="middle">60</text><text x="174.85" y="532.9" class="tk" text-anchor="middle">62</text><text x="204.1" y="532.9" class="tk" text-anchor="middle">64</text><text x="233.35" y="532.9" class="tk" text-anchor="middle">66</text><text x="262.6" y="532.9" class="tk" text-anchor="middle">68</text><text x="25.1" y="527.4" class="tk" text-anchor="end">0</text><text x="25.1" y="507.19" class="tk" text-anchor="end">20</text><text x="25.1" y="486.97" class="tk" text-anchor="end">40</text><text x="25.1" y="466.76" class="tk" text-anchor="end">60</text><text x="25.1" y="446.55" class="tk" text-anchor="end">80</text><text x="25.1" y="426.33" class="tk" text-anchor="end">100</text><text x="25.1" y="406.12" class="tk" text-anchor="end">120</text><text x="25.1" y="385.91" class="tk" text-anchor="end">140</text><text x="145.6" y="541.7" class="lb" text-anchor="middle">Fe %</text><text transform="translate(10.4,453.8) rotate(-90)" class="lb" text-anchor="middle">Frequency</text><text x="145.6" y="378.1" class="tt" text-anchor="middle">Histogram Block Predictions of XGBoost Model</text></g>
</svg>
</body></html>
